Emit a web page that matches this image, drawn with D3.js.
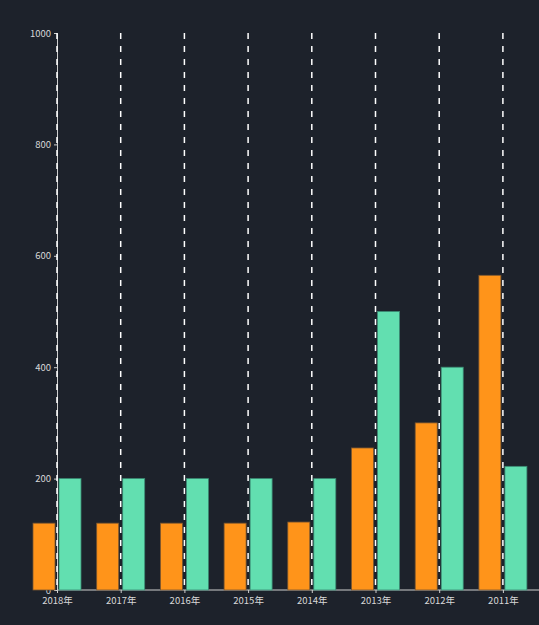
<!DOCTYPE html>
<meta charset="utf-8">
<script src="https://d3js.org/d3.v7.min.js"></script>
<style>
  html, body { margin: 0; padding: 0; background: #1d222b; }
  svg { display: block; }
  .axis text { fill: #d8d8d8; font-family: "Noto Sans CJK SC", "DejaVu Sans", sans-serif; font-size: 9.5px; }
  .axis line, .axis path { stroke: #cfcfcf; }
</style>
<body></body>
<script>
// data
var years = ["2018年", "2017年", "2016年", "2015年", "2014年", "2013年", "2012年", "2011年"];
var orangeVals = [120, 120, 120, 120, 122, 255, 300, 565];
var greenVals = [200, 200, 200, 200, 200, 500, 400, 222];
var yTicks = [0, 200, 400, 600, 800, 1000];

var W = 539, H = 625;
var margin = {top: 33, right: 0, bottom: 35, left: 57};
var height = H - margin.top - margin.bottom;   // 557

var svg = d3.select("body").append("svg")
    .attr("width", W)
    .attr("height", H);

var xScale = d3.scalePoint().domain(years).range([margin.left, margin.left + 7 * 63.7]);
var yScale = d3.scaleLinear().domain([0, 1000]).range([margin.top + height, margin.top]);
var subX = d3.scaleBand().domain(["o", "g"]).range([-24, 24]).paddingInner(0.154);

// y axis
var yAxis = d3.axisLeft(yScale).tickValues(yTicks).tickFormat(d3.format("d"))
    .tickSize(3).tickPadding(3);
svg.append("g")
    .attr("class", "axis y")
    .attr("transform", "translate(" + margin.left + ",0)")
    .call(yAxis);

// x axis
var xAxis = d3.axisBottom(xScale).tickSize(3).tickSizeOuter(0).tickPadding(4);
var xg = svg.append("g")
    .attr("class", "axis x")
    .attr("transform", "translate(0," + yScale(0) + ")")
    .call(xAxis);
xg.select(".domain").remove();
xg.append("line")
    .attr("x1", margin.left).attr("x2", W)
    .attr("y1", 0).attr("y2", 0)
    .attr("stroke", "#cfcfcf");

// dashed vertical lines at each category
svg.append("g").selectAll("line")
    .data(years)
    .enter().append("line")
    .attr("x1", function(d) { return xScale(d); })
    .attr("x2", function(d) { return xScale(d); })
    .attr("y1", yScale(1000))
    .attr("y2", yScale(0))
    .attr("stroke", "#ffffff")
    .attr("stroke-width", 1.5)
    .attr("stroke-dasharray", "6,7");

// bars
var rows = years.map(function(y, i) { return {year: y, o: orangeVals[i], g: greenVals[i]}; });

svg.append("g").selectAll(".bar-o")
    .data(rows)
    .enter().append("rect")
    .attr("class", "bar-o")
    .attr("x", function(d) { return xScale(d.year) + subX("o"); })
    .attr("y", function(d) { return yScale(d.o); })
    .attr("width", subX.bandwidth())
    .attr("height", function(d) { return yScale(0) - yScale(d.o); })
    .style("fill", "#ff941a")
    .style("stroke", "#7a5630")
    .style("stroke-width", 0.8);

svg.append("g").selectAll(".bar-g")
    .data(rows)
    .enter().append("rect")
    .attr("class", "bar-g")
    .attr("x", function(d) { return xScale(d.year) + subX("g"); })
    .attr("y", function(d) { return yScale(d.g); })
    .attr("width", subX.bandwidth())
    .attr("height", function(d) { return yScale(0) - yScale(d.g); })
    .style("fill", "#62dfb0")
    .style("stroke", "#3b8a74")
    .style("stroke-width", 0.8);
</script>
